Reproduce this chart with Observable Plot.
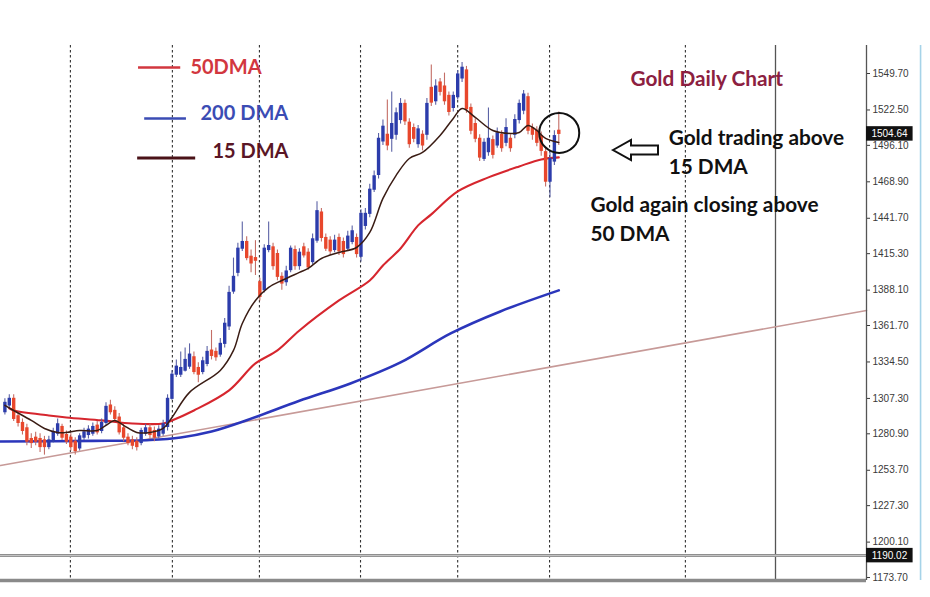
<!DOCTYPE html>
<html><head><meta charset="utf-8">
<script src="https://cdn.jsdelivr.net/npm/d3@7"></script>
<script src="https://cdn.jsdelivr.net/npm/@observablehq/plot@0.6"></script>
<style>
body{margin:0;background:#fff;}
#wrap{position:relative;width:930px;height:597px;overflow:hidden;}
#arrow{position:absolute;left:0;top:0;pointer-events:none;}
</style></head><body>
<div id="wrap"></div>
<script>
// ---- Daily candles (trading-day index = array position) ----
const open = [1297,1302,1307,1294,1289,1285,1277,1278,1277,1276, 1271,1275,1281,1286,1280,1278,1275,1270,1278,1280, 1281,1287,1283,1289,1302,1298,1293,1285,1278,1276, 1275,1274,1281,1285,1283,1279,1281,1286,1307,1325, 1325,1328,1331,1338,1330,1327,1333,1343,1342,1340, 1348,1361,1387,1401,1419,1424,1413,1412,1394,1388, 1418,1420,1415,1398,1394,1403,1418,1406,1420,1416, 1409,1425,1446,1427,1425,1418,1427,1424,1419,1424, 1427,1413,1436,1445,1463,1474,1499,1504,1501,1504, 1515,1527,1513,1509,1497,1504,1504,1539,1529,1543, 1540,1533,1524,1532,1546,1552,1524,1512,1501,1486, 1491,1500,1496,1504,1498,1501,1504,1515,1522,1532, 1509,1507,1503,1491,1469,1484,1507];
const close = [1304,1307,1292,1289,1283,1275,1274,1275,1271,1271, 1276,1282,1288,1278,1275,1271,1268,1279,1282,1284, 1286,1282,1289,1301,1297,1292,1282,1278,1274,1272, 1271,1283,1285,1280,1278,1284,1288,1307,1325,1331, 1330,1336,1340,1327,1325,1335,1342,1339,1338,1348, 1363,1386,1398,1419,1424,1412,1408,1410,1383,1419, 1421,1406,1398,1393,1402,1419,1406,1416,1414,1405, 1426,1447,1427,1419,1417,1425,1417,1415,1428,1432, 1415,1445,1445,1463,1473,1501,1510,1496,1512,1520, 1527,1514,1497,1501,1508,1496,1527,1528,1540,1536, 1529,1521,1533,1549,1554,1523,1507,1501,1487,1498, 1501,1489,1505,1494,1509,1494,1515,1527,1534,1507, 1504,1498,1492,1469,1486,1503,1504.64];
const high = [1307,1310,1310,1297,1292,1288,1281,1282,1281,1279, 1279,1285,1292,1288,1283,1281,1278,1281,1285,1287, 1289,1290,1292,1304,1306,1301,1296,1288,1281,1279, 1278,1285,1288,1288,1286,1287,1291,1310,1328,1336, 1342,1345,1348,1342,1334,1338,1346,1358,1345,1352, 1367,1391,1412,1423,1439,1428,1418,1425,1397,1422, 1439,1423,1418,1401,1406,1421,1421,1419,1423,1419, 1430,1454,1449,1430,1428,1429,1430,1427,1432,1436, 1430,1448,1449,1467,1477,1505,1515,1530,1536,1524, 1531,1530,1516,1512,1511,1507,1531,1556,1545,1546, 1550,1536,1536,1552,1558,1555,1527,1516,1504,1501, 1524,1503,1509,1507,1516,1504,1519,1530,1537,1535, 1512,1510,1506,1494,1492,1507,1521];
const low = [1295,1300,1290,1286,1280,1272,1270,1272,1267,1265, 1269,1274,1279,1276,1273,1268,1265,1268,1276,1277, 1279,1280,1281,1287,1295,1290,1280,1275,1272,1269, 1268,1272,1279,1277,1275,1277,1279,1283,1306,1323, 1323,1327,1329,1325,1319,1325,1331,1336,1335,1338, 1345,1358,1385,1398,1417,1410,1401,1399,1380,1386, 1416,1403,1395,1388,1391,1401,1403,1403,1412,1403, 1407,1423,1424,1417,1414,1416,1414,1412,1417,1422, 1412,1409,1433,1442,1461,1471,1496,1492,1491,1500, 1512,1511,1494,1498,1494,1492,1500,1525,1526,1533, 1526,1518,1521,1530,1543,1520,1504,1498,1484,1484, 1488,1486,1494,1491,1495,1491,1501,1512,1519,1504, 1500,1495,1488,1465,1457,1481,1496];

// ---- Moving averages (day index, price) ----
const ma15Day = [0,2,6,9,12,14,17,21,23,25,27,30,33,36,38,42,49,52,54,57,60,63,67,69,72,76,80,83,86,89,92,95,99,102,104,107,111,115,117,119,121,123,126];
const ma15Val = [1302.1,1298.3,1290.9,1284.9,1281.9,1281.9,1283.4,1283.4,1287.2,1290.9,1287.2,1281.9,1281.9,1284.9,1293.1,1311.8,1328.2,1343.1,1363.2,1380.4,1390.1,1395.3,1401.3,1404.3,1411.7,1416.2,1419.9,1431.1,1456.5,1473.7,1486.3,1490.8,1503.5,1516.2,1523.6,1516.9,1507.2,1505.0,1505.7,1511.0,1507.2,1501.3,1498.3];
const ma50Day = [1,2,10,14,22,29,36,38,43,51,57,62,67,76,83,86,90,94,97,103,110,117,122,126];
const ma50Val = [1299.8,1298.3,1294.6,1293.1,1290.9,1288.6,1288.6,1290.9,1298.3,1313.3,1333.4,1343.1,1358.0,1380.4,1395.3,1406.5,1419.2,1436.4,1444.6,1461.7,1472.2,1480.4,1485.6,1487.1];
const ma200Day = [-1,20,33,40,47,55,67,78.6,90,101.4,112.7,126];
const ma200Val = [1275.2,1275.6,1276.3,1278.2,1282.6,1291.0,1305.5,1318.5,1334.2,1355.8,1372.2,1387.9];
const trendDay = [-1,196];
const trendVal = [1257.3,1372.9];

// ---- Axis / reference levels ----
const tickValues = [1549.70,1522.50,1496.10,1468.90,1441.70,1415.30,1388.10,1361.70,1334.50,1307.30,1280.90,1253.70,1227.30,1200.10,1173.70];
const priceTags = [1504.64,1190.02];
const hLevel = [1190.02];
const monthSeps = [14.9,38.1,57.9,80.9,103,123.9,154.8];
const solidSep = [175.3];

// ---- Labels ----
const legendNames = ["50DMA","200 DMA","15 DMA"];
const noteTexts = ["Gold Daily Chart","Gold trading above","15 DMA","Gold again closing above","50 DMA"];

// layout (positions in chart data space)
const legendLayout = [
  {x1:30.4, x2:40.0, lineP:1554.2, tx:42.2, tP:1554.2, color:"#d2373f", lineColor:"#d2373f", w:2.5},
  {x1:31.8, x2:41.3, lineP:1516.2, tx:44.5, tP:1519.9, color:"#3b4cb4", lineColor:"#3b4cb4", w:2.5},
  {x1:30.2, x2:43.4, lineP:1486.6, tx:47.2, tP:1491.6, color:"#5a1626", lineColor:"#4a1218", w:3}
];
const noteLayout = [
  {tx:142.3, tP:1545.3, color:"#8c2040"},
  {tx:151.0, tP:1501.3, color:"#111"},
  {tx:151.0, tP:1479.6, color:"#111"},
  {tx:133.2, tP:1451.3, color:"#111"},
  {tx:133.2, tP:1429.6, color:"#111"}
];

const candles = open.map((o,i)=>({day:i, open:o, close:close[i], high:high[i], low:low[i], up: close[i] >= o}));
const ma = (days, vals) => days.map((d,i)=>({day:d, price:vals[i]}));
const legend = legendNames.map((n,i)=>({name:n, ...legendLayout[i]}));
const notes = noteTexts.map((t,i)=>({text:t, ...noteLayout[i]}));

const bull = "#2c3cab", bear = "#e8472c";
const bullWick = "#5c63a6", bearWick = "#c46e66";
const yMin = 1171.46, yMax = 1570.6, xMax = 196;

const chart = Plot.plot({
  width: 930, height: 597,
  marginLeft: 0, marginRight: 64, marginTop: 45, marginBottom: 17,
  x: {domain: [-1, xMax], axis: null},
  y: {domain: [yMin, yMax], axis: null},
  color: {type: "identity"},
  style: {background: "transparent", fontFamily: "Liberation Sans, Arial, sans-serif", fontSize: "10px", overflow: "visible"},
  marks: [
    Plot.ruleX(monthSeps, {stroke: "#333", strokeDasharray: "2.5,2.5", strokeWidth: 1.1}),
    Plot.ruleX(solidSep, {stroke: "#555", strokeWidth: 1.3}),
    Plot.ruleY(hLevel, {stroke: "#8f8f8f", strokeWidth: 3}),
    Plot.ruleY(hLevel, {stroke: "#d8d8d8", strokeWidth: 0.8}),
    Plot.ruleY([yMin], {stroke: "#8a8a8a", strokeWidth: 3.5}),
    Plot.line(ma(trendDay, trendVal), {x: "day", y: "price", stroke: "#c79a98", strokeWidth: 1.6}),
    Plot.line(ma(ma200Day, ma200Val), {x: "day", y: "price", stroke: "#2b36bb", strokeWidth: 2.6, curve: "catmull-rom"}),
    Plot.line(ma(ma50Day, ma50Val), {x: "day", y: "price", stroke: "#d6262e", strokeWidth: 2.1, curve: "catmull-rom"}),
    Plot.ruleX(candles, {x: "day", y1: "low", y2: "high", stroke: d => d.up ? bullWick : bearWick, strokeWidth: 1.1}),
    Plot.ruleX(candles, {x: "day", y1: d => Math.min(d.open, d.close) - 0.4, y2: d => Math.max(d.open, d.close) + 0.4, stroke: d => d.up ? bull : bear, strokeWidth: 3.4}),
    Plot.line(ma(ma15Day, ma15Val), {x: "day", y: "price", stroke: "#3a1c14", strokeWidth: 1.5, curve: "catmull-rom"}),
    // right axis
    Plot.ruleX([xMax], {stroke: "#555", strokeWidth: 1.3}),
    Plot.ruleX([208.3], {stroke: "#a6d3e8", strokeWidth: 1.6}),
    Plot.axisY(tickValues, {anchor: "right", tickSize: 3, tickPadding: 3, tickFormat: d => d.toFixed(2), fontSize: 10, color: "#3a3a3a"}),
    Plot.rect(priceTags, {x1: () => xMax, x2: () => 206.6, y1: d => d - 5.4, y2: d => d + 5.4, fill: "#111"}),
    Plot.text(priceTags, {x: () => xMax, dx: 23, y: d => d, text: d => d.toFixed(2), fill: "#fff", fontSize: 10, textAnchor: "middle"}),
    // legend
    Plot.ruleY(legend, {x1: "x1", x2: "x2", y: "lineP", stroke: "lineColor", strokeWidth: "w"}),
    Plot.text(legend, {x: "tx", y: "tP", text: "name", fill: "color", textAnchor: "start", lineAnchor: "middle", fontFamily: "Lato, sans-serif", fontWeight: "bold", fontSize: 20}),
    // notes
    Plot.text(notes, {x: "tx", y: "tP", text: "text", fill: "color", textAnchor: "start", lineAnchor: "middle", fontFamily: "Lato, sans-serif", fontWeight: "bold", fontSize: 20.8}),
    Plot.dot([{day: 126.1, price: 1505.4}], {x: "day", y: "price", r: 20, stroke: "#111", strokeWidth: 2, fill: "none"})
  ]
});
const wrap = document.getElementById("wrap");
wrap.appendChild(chart);
// hollow arrow pointing at the circled candles
const ns = "http://www.w3.org/2000/svg";
const a = document.createElementNS(ns, "svg");
a.setAttribute("id", "arrow"); a.setAttribute("width", 930); a.setAttribute("height", 597);
const p = document.createElementNS(ns, "path");
p.setAttribute("d", "M613,150 L631,140 L631,145.5 L658,145.5 L658,154.5 L631,154.5 L631,160 Z");
p.setAttribute("fill", "#fff"); p.setAttribute("stroke", "#111"); p.setAttribute("stroke-width", "2");
a.appendChild(p); wrap.appendChild(a);
</script>
</body></html>
